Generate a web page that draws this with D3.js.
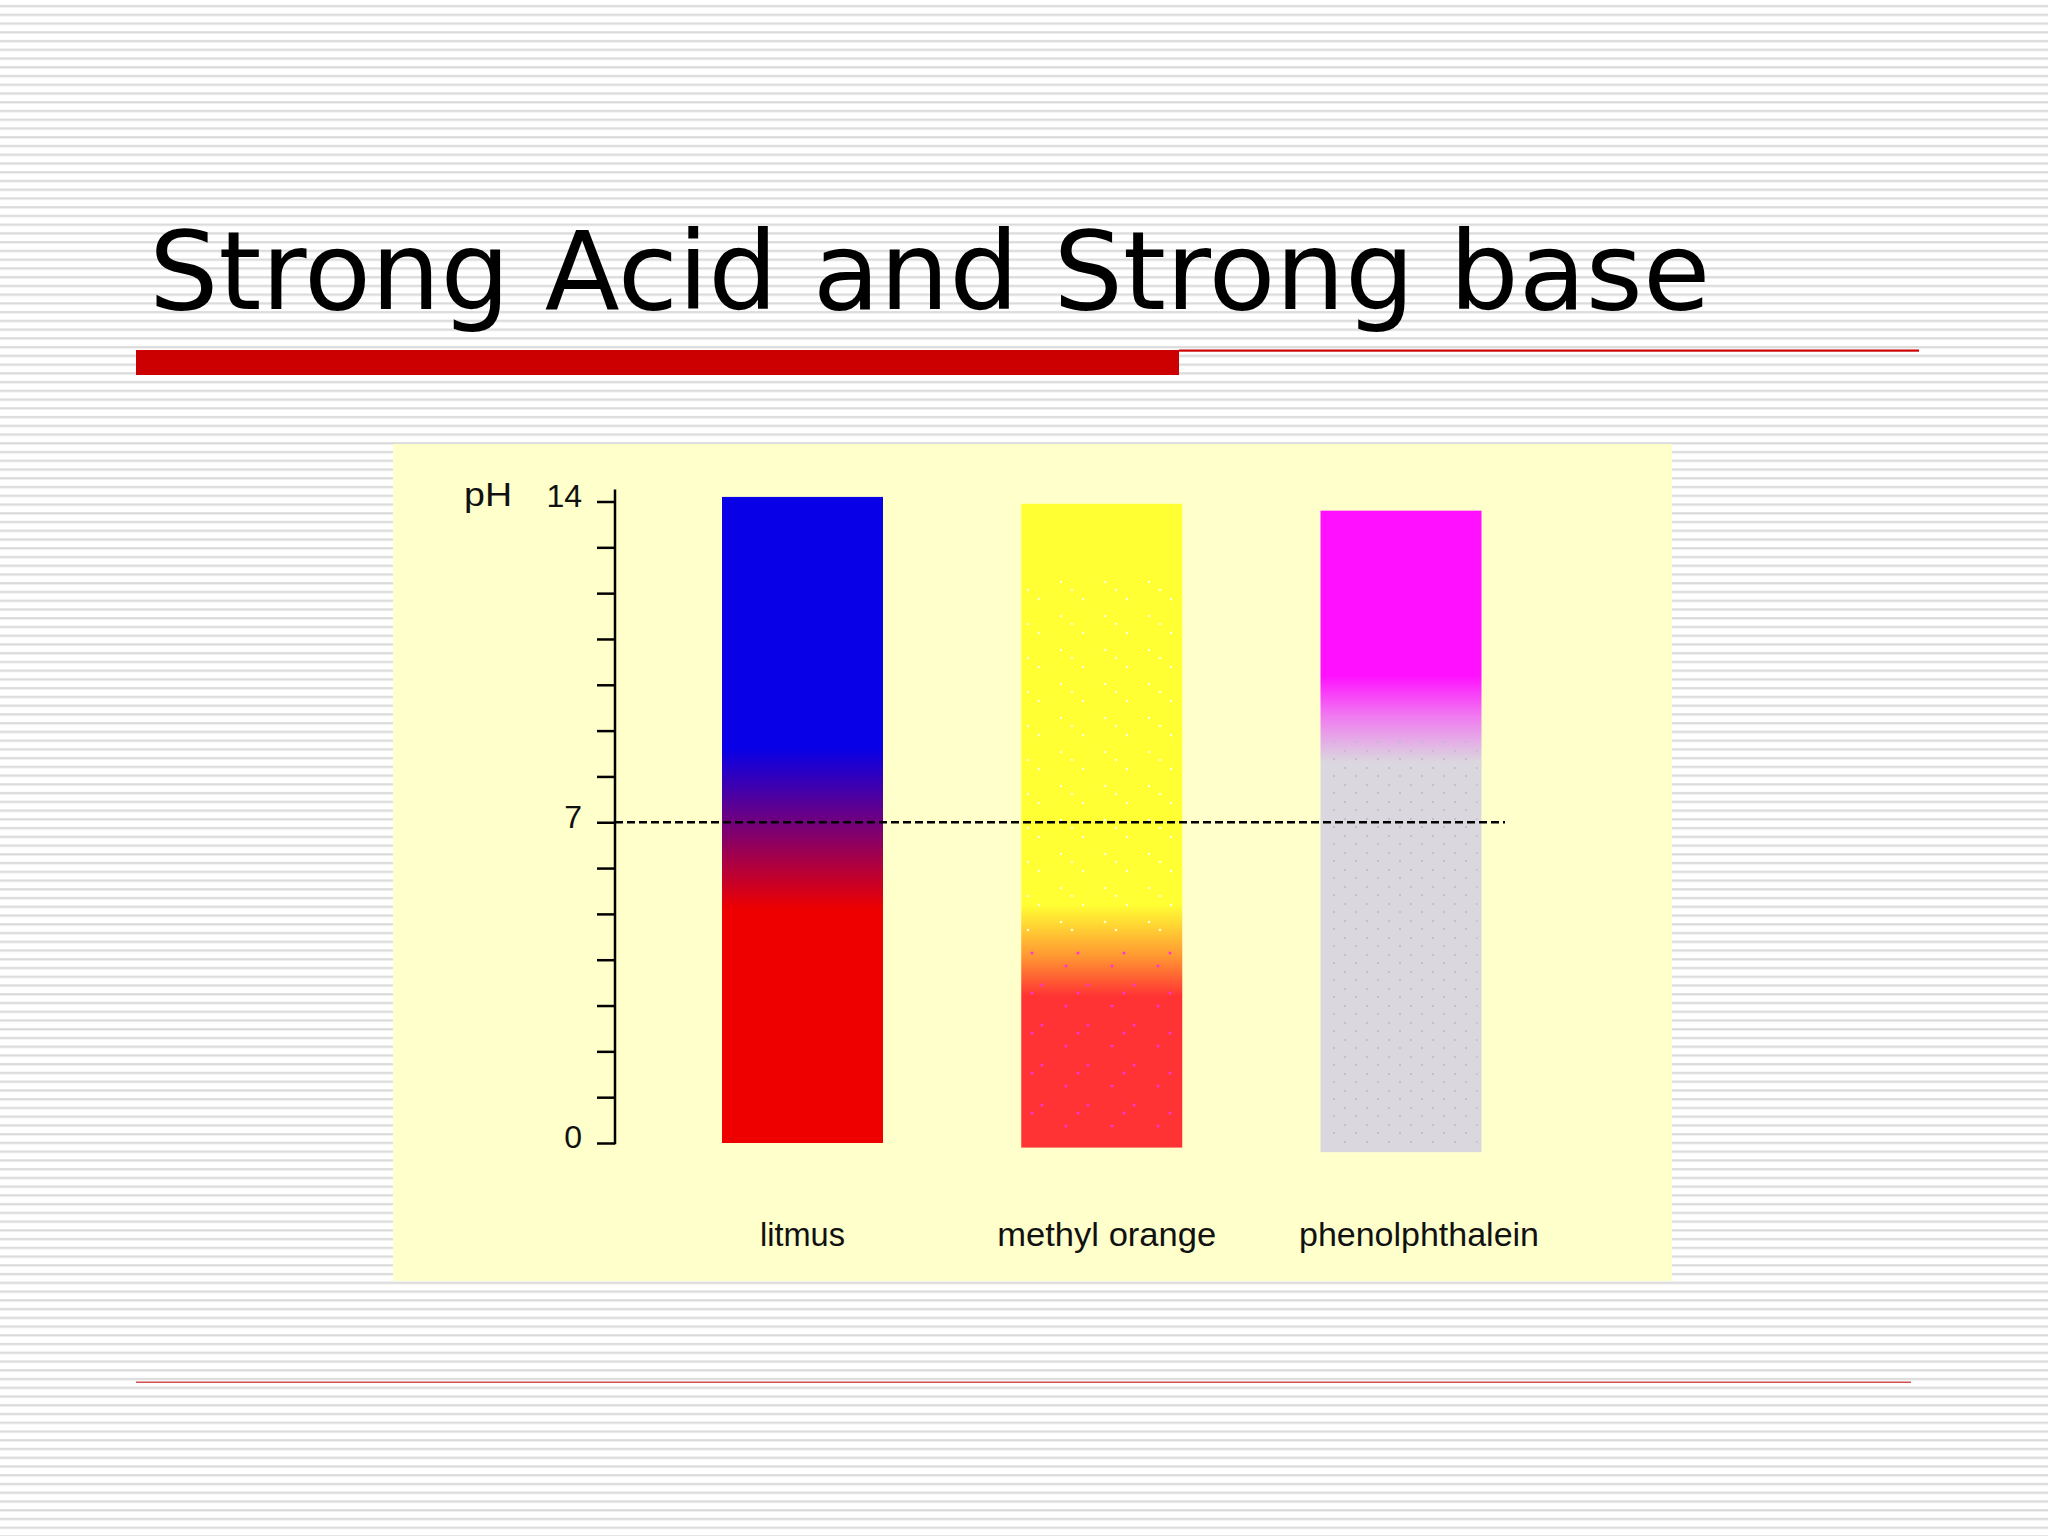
<!DOCTYPE html>
<html>
<head>
<meta charset="utf-8">
<script src="https://cdn.jsdelivr.net/npm/d3@7"></script>
<style>
  html, body { margin: 0; padding: 0; background: #fff; }
  svg { display: block; }
  .axis text { font-family: "Liberation Sans", Arial, sans-serif; font-size: 32px; fill: #111; }
  .label { font-family: "Liberation Sans", Arial, sans-serif; font-size: 33px; fill: #111; }
</style>
</head>
<body>
<div id="chart1"></div>
<script>
// DATA
const titleText = "Strong Acid and Strong base";
const indicators = ["litmus", "methyl orange", "phenolphthalein"];
const barTopPH = [14.1, 13.95, 13.8];
const barBottomPH = [0, -0.1, -0.2];
// colour stops per indicator: [pH, colour]
const litmusStops = [[14.1, "#0800e6"], [8.6, "#0800e6"], [5.1, "#ee0000"], [0, "#ee0000"]];
const methylStops = [[13.95, "#ffff33"], [5.2, "#ffff33"], [4.1, "#ff9a33"], [3.2, "#ff3333"], [-0.1, "#ff3333"]];
const phenolStops = [[13.8, "#ff10ff"], [10.2, "#ff10ff"], [9.3, "#f07cf0"], [8.3, "#dad8de"], [-0.2, "#dad8de"]];
const colourStops = [litmusStops, methylStops, phenolStops];
const phTicks = [0, 1, 2, 3, 4, 5, 6, 7, 8, 9, 10, 11, 12, 13, 14];
const phTickLabels = [0, 7, 14];
const neutralPH = 7;

//SET UP SVG
const width = 2048, height = 1536;
const panel = {x: 393, y: 444, w: 1279, h: 837};
const labelShift = [0, 5, 18];
const labelWidth = [85, 219, 240];

const svg = d3.select("#chart1")
    .append("svg")
    .attr("width", width)
    .attr("height", height);

const defs = svg.append("defs");

// striped slide background
const stripes = defs.append("pattern")
    .attr("id", "stripes")
    .attr("patternUnits", "userSpaceOnUse")
    .attr("width", 40)
    .attr("height", 8.745)
    .attr("y", 0);
stripes.append("rect").attr("width", 40).attr("height", 8.745).attr("fill", "#ffffff");
stripes.append("rect").attr("y", 5).attr("width", 40).attr("height", 2.2).attr("fill", "#dadada");

svg.append("rect")
    .attr("width", width)
    .attr("height", height)
    .attr("fill", "url(#stripes)");

// TITLE
svg.append("text")
    .attr("x", 149)
    .attr("y", 309)
    .attr("font-family", "'DejaVu Sans', Verdana, sans-serif")
    .attr("font-size", 109.5)
    .attr("fill", "#000")
    .text(titleText);

svg.append("rect").attr("x", 136).attr("y", 350).attr("width", 1043).attr("height", 25).attr("fill", "#cc0000");
svg.append("rect").attr("x", 1179).attr("y", 349.5).attr("width", 740).attr("height", 2.2).attr("fill", "#cc0000");
svg.append("rect").attr("x", 136).attr("y", 1381.5).attr("width", 1775).attr("height", 1.5).attr("fill", "#d35050");

// CHART PANEL
svg.append("rect")
    .attr("x", panel.x)
    .attr("y", panel.y)
    .attr("width", panel.w)
    .attr("height", panel.h)
    .attr("fill", "#ffffcc");

//SCALES
const yScale = d3.scaleLinear()
    .domain([0, 14])
    .range([1143, 501.5]);

const xScale = d3.scaleBand()
    .domain(indicators)
    .range([722, 1481.5])
    .paddingInner(0.462)
    .paddingOuter(0);

// GRADIENTS
colourStops.forEach(function(stops, i) {
    const y1 = yScale(stops[0][0]);
    const y2 = yScale(stops[stops.length - 1][0]);
    const g = defs.append("linearGradient")
        .attr("id", "grad" + i)
        .attr("gradientUnits", "userSpaceOnUse")
        .attr("x1", 0).attr("x2", 0)
        .attr("y1", y1).attr("y2", y2);
    g.selectAll("stop")
        .data(stops)
        .enter()
        .append("stop")
        .attr("offset", function(d) { return (yScale(d[0]) - y1) / (y2 - y1); })
        .attr("stop-color", function(d) { return d[1]; });
});

// dot textures
function dotPattern(id, w, h, r, colour, pts) {
    const p = defs.append("pattern")
        .attr("id", id)
        .attr("patternUnits", "userSpaceOnUse")
        .attr("width", w)
        .attr("height", h);
    pts.forEach(function(pt) {
        p.append("circle").attr("cx", pt[0]).attr("cy", pt[1]).attr("r", r).attr("fill", colour);
    });
}
dotPattern("dotsYellow", 44, 34, 1.3, "#ffffd2", [[5, 4], [27, 21], [16, 12]]);
dotPattern("dotsRed", 46, 40, 1.5, "#ff33d6", [[8, 6], [30, 25], [20, 33]]);
dotPattern("dotsGrey", 22, 17, 1.1, "#bdbac4", [[3, 3], [14, 11]]);

//MARKS
svg.selectAll("rect.bar")
    .data(indicators)
    .enter()
    .append("rect")
    .attr("class", "bar")
    .attr("x", function(d) { return xScale(d); })
    .attr("y", function(d, i) { return yScale(barTopPH[i]); })
    .attr("width", xScale.bandwidth())
    .attr("height", function(d, i) { return yScale(barBottomPH[i]) - yScale(barTopPH[i]); })
    .attr("fill", function(d, i) { return "url(#grad" + i + ")"; });

// speckle overlays
const speckles = [
    {name: "methyl orange", from: 12.5, to: 4.6, fill: "url(#dotsYellow)"},
    {name: "methyl orange", from: 4.2, to: 0, fill: "url(#dotsRed)"},
    {name: "phenolphthalein", from: 8.8, to: -0.1, fill: "url(#dotsGrey)"}
];
svg.selectAll("rect.speckle")
    .data(speckles)
    .enter()
    .append("rect")
    .attr("class", "speckle")
    .attr("x", function(d) { return xScale(d.name) + 4; })
    .attr("y", function(d) { return yScale(d.from); })
    .attr("width", xScale.bandwidth() - 8)
    .attr("height", function(d) { return yScale(d.to) - yScale(d.from); })
    .attr("fill", function(d) { return d.fill; });

//AXIS
const yAxis = svg.append("g")
    .attr("class", "axis")
    .attr("transform", `translate(${615},0)`)
    .call(d3.axisLeft(yScale)
        .tickValues(phTicks)
        .tickSize(18)
        .tickSizeOuter(0)
        .tickPadding(15)
        .tickFormat(function(d) { return phTickLabels.includes(d) ? d : ""; }));

yAxis.select(".domain").remove();
yAxis.selectAll(".tick line").attr("stroke", "#000").attr("stroke-width", 2.5);
yAxis.selectAll(".tick text").attr("dy", "0.15em").attr("font-size", 33);

yAxis.append("line")
    .attr("x1", 0).attr("x2", 0)
    .attr("y1", yScale(14) - 12)
    .attr("y2", yScale(0) + 1.25)
    .attr("stroke", "#000")
    .attr("stroke-width", 2.5);

svg.append("text")
    .attr("class", "label")
    .attr("x", 464)
    .attr("y", yScale(14) + 4)
    .attr("font-size", 34)
    .attr("textLength", 48)
    .attr("lengthAdjust", "spacingAndGlyphs")
    .text("pH");

// NEUTRAL LINE
svg.append("line")
    .attr("x1", 615)
    .attr("x2", 1505)
    .attr("y1", yScale(neutralPH))
    .attr("y2", yScale(neutralPH))
    .attr("stroke", "#000")
    .attr("stroke-width", 2.5)
    .attr("stroke-dasharray", "8,4");

// CATEGORY LABELS
svg.selectAll("text.cat")
    .data(indicators)
    .enter()
    .append("text")
    .attr("class", "label cat")
    .attr("x", function(d, i) { return xScale(d) + xScale.bandwidth() / 2 + labelShift[i] - labelWidth[i] / 2; })
    .attr("y", 1246)
    .attr("font-size", 38)
    .attr("textLength", function(d, i) { return labelWidth[i]; })
    .attr("lengthAdjust", "spacingAndGlyphs")
    .text(function(d) { return d; });
</script>
</body>
</html>
